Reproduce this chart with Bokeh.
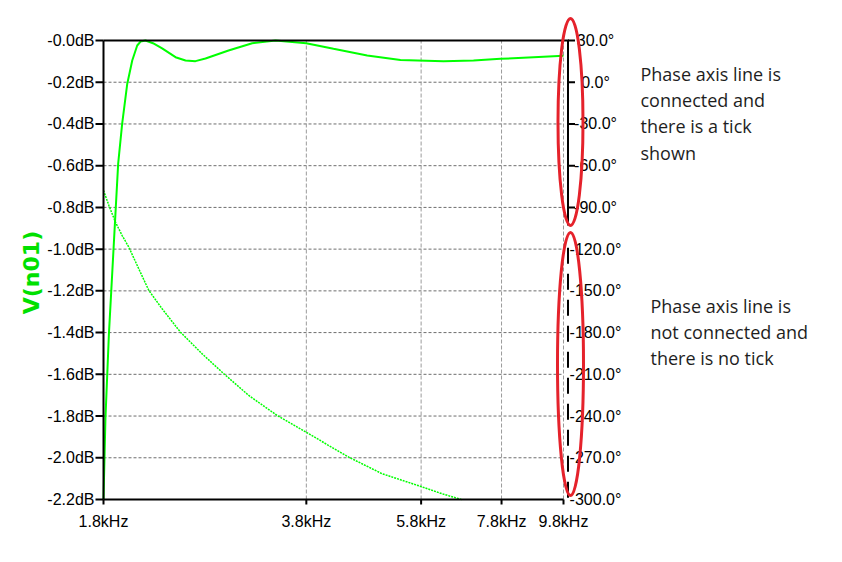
import math
from bokeh.plotting import figure
from bokeh.models import Range1d, LinearScale
from bokeh.core.properties import value
from bokeh.embed import file_html
from bokeh.resources import INLINE

# frequency axis (kHz, log)
freq_ticks = [1.8, 3.8, 5.8, 7.8, 9.8]
freq_labels = ["1.8kHz", "3.8kHz", "5.8kHz", "7.8kHz", "9.8kHz"]

# magnitude axis
db_ticks = [0.0, -0.2, -0.4, -0.6, -0.8, -1.0, -1.2, -1.4, -1.6, -1.8, -2.0, -2.2]
db_labels = ["-0.0dB", "-0.2dB", "-0.4dB", "-0.6dB", "-0.8dB", "-1.0dB",
             "-1.2dB", "-1.4dB", "-1.6dB", "-1.8dB", "-2.0dB", "-2.2dB"]

# phase axis
phase_ticks = [30, 0, -30, -60, -90, -120, -150, -180, -210, -240, -270, -300]
phase_labels = ["30.0°", "0.0°", "-30.0°", "-60.0°", "-90.0°", "-120.0°",
                "-150.0°", "-180.0°", "-210.0°", "-240.0°", "-270.0°", "-300.0°"]
# phase axis line: solid down to solid_end, dashed from dashed_start
solid_end = -103
dashed_start = -119

# V(n01) magnitude
mag_freq = [1.8, 1.813, 1.836, 1.860, 1.881, 1.900, 1.928, 1.964, 2.001, 2.038, 2.063, 2.101,
            2.16, 2.234, 2.347, 2.435, 2.526, 2.621, 2.853, 3.113, 3.392, 3.798, 4.200, 4.755,
            5.376, 6.299, 7.035, 7.771, 8.775, 9.8]
mag_db = [-2.20, -1.81, -1.41, -1.10, -0.83, -0.59, -0.40, -0.21, -0.096, -0.024, -0.005, 0.0,
          -0.013, -0.038, -0.080, -0.096, -0.099, -0.086, -0.048, -0.013, 0.0, -0.013, -0.040,
          -0.072, -0.093, -0.099, -0.096, -0.088, -0.080, -0.073]

# V(n01) phase
ph_freq = [1.8, 1.836, 1.881, 1.928, 1.976, 2.050, 2.127, 2.234, 2.390, 2.589, 2.804,
           3.074, 3.413, 3.798, 4.128, 4.444, 5.025, 5.8, 6.269, 6.748]
ph_deg = [-77.8, -88.6, -100.6, -110.2, -118.6, -134.2, -149.7, -162.9, -179.7, -195.3,
          -209.6, -225.2, -239.6, -251.6, -261.2, -269.6, -281.5, -290.7, -295.9, -300.2]

note_top = ["Phase axis line is", "connected and", "there is a tick", "shown"]
note_bottom = ["Phase axis line is", "not connected and", "there is no tick"]

GREEN = "#00ff00"
RED = "#e5222b"
TICK_FONT = "Liberation Sans"
TICK_SIZE = "16px"

# the frame fills the canvas; the plot itself sits in [X0, X1] x [Y_TOP, Y_BOT] page pixels
W, H = 840, 560
X0, X1, Y_TOP, Y_BOT = 103, 563, 40, 499


def stretched(lo, hi):
    # value range that puts lo at Y_BOT and hi at Y_TOP on a 0..H frame
    k = (hi - lo) / (Y_BOT - Y_TOP)
    return Range1d(lo - k * (H - Y_BOT), hi + k * Y_TOP)


ratio = freq_ticks[-1] / freq_ticks[0]
x_range = Range1d(freq_ticks[0] * ratio ** (-X0 / (X1 - X0)),
                  freq_ticks[0] * ratio ** ((W - X0) / (X1 - X0)))

p = figure(width=W, height=H, x_axis_type="log", x_axis_location=None, y_axis_location=None,
           x_range=x_range, y_range=stretched(db_ticks[-1], db_ticks[0]),
           output_backend="svg", toolbar_location=None,
           min_border_left=0, min_border_top=0, min_border_right=0, min_border_bottom=0)
p.outline_line_color = None
p.grid.visible = False

p.extra_y_ranges = {"phase": stretched(phase_ticks[-1], phase_ticks[0]), "py": Range1d(H, 0)}
p.extra_x_ranges = {"px": Range1d(0, W)}
p.extra_x_scales = {"px": LinearScale()}

# grid, limited to the plot area
p.segment(x0=freq_ticks[0], x1=freq_ticks[-1], y0=db_ticks[1:-1], y1=db_ticks[1:-1],
          line_color="#6e6e6e", line_width=1, line_dash="3 2")
p.segment(x0=freq_ticks[1:], x1=freq_ticks[1:], y0=db_ticks[-1], y1=db_ticks[0],
          line_color="#9a9a9a", line_width=1, line_dash="4 2")

p.line(ph_freq, ph_deg, y_range_name="phase", line_color=GREEN, line_width=1.5, line_dash="2 1")
p.line(mag_freq, mag_db, line_color=GREEN, line_width=2)

text_style = dict(text_font=value(TICK_FONT), text_font_size=value(TICK_SIZE),
                  text_color="black", text_baseline="middle")

# magnitude axis
p.segment(x0=[freq_ticks[0]], x1=[freq_ticks[0]], y0=[db_ticks[-1]], y1=[db_ticks[0]],
          line_color="black", line_width=2)
p.segment(x0=X0 - 8, x1=X0, y0=db_ticks, y1=db_ticks, x_range_name="px",
          line_color="black", line_width=2)
p.text(x=X0 - 9, y=db_ticks, text=db_labels, x_range_name="px", text_align="right",
       **text_style)

# frequency axis
p.segment(x0=[freq_ticks[0]], x1=[freq_ticks[-1]], y0=[db_ticks[-1]], y1=[db_ticks[-1]],
          line_color="black", line_width=2)
p.segment(x0=freq_ticks, x1=freq_ticks, y0=Y_BOT, y1=Y_BOT + 5, y_range_name="py",
          line_color="black", line_width=2)
p.text(x=freq_ticks, y=Y_BOT + 22, text=freq_labels, y_range_name="py", text_align="center",
       **text_style)

# top border and the phase axis
axis_x = 567.5
p.segment(x0=[X0], x1=[axis_x + 1], y0=[db_ticks[0]], y1=[db_ticks[0]], x_range_name="px",
          line_color="black", line_width=2)
p.segment(x0=[axis_x], x1=[axis_x], y0=[phase_ticks[0]], y1=[solid_end],
          x_range_name="px", y_range_name="phase", line_color="black", line_width=2)
p.segment(x0=[axis_x], x1=[axis_x], y0=[dashed_start], y1=[phase_ticks[-1]],
          x_range_name="px", y_range_name="phase", line_color="black", line_width=2,
          line_dash="16 10")
shown = [t for t in phase_ticks if t > solid_end]
p.segment(x0=axis_x, x1=axis_x + 7, y0=shown, y1=shown, x_range_name="px",
          y_range_name="phase", line_color="black", line_width=2)
p.text(x=595, y=phase_ticks, text=phase_labels, x_range_name="px", y_range_name="phase",
       text_align="center", **text_style)

# trace name, written up the left side
p.text(x=[31], y=[272], text=["V(n01)"], angle=math.pi / 2,
       x_range_name="px", y_range_name="py", text_align="center", text_baseline="middle",
       text_font=value("DejaVu Sans"), text_font_style="bold", text_font_size=value("22px"),
       text_color="#00e000")

# red call-out rings
p.ellipse(x=[570, 570], y=[121.5, 363.5], width=[25, 26], height=[207, 263],
          x_range_name="px", y_range_name="py", fill_alpha=0, line_color=RED, line_width=3)

for lines, x0, y0 in [(note_top, 640, 73), (note_bottom, 650, 305)]:
    p.text(x=[x0] * len(lines), y=[y0 + i * 26.4 for i in range(len(lines))], text=lines,
           x_range_name="px", y_range_name="py", text_align="left", text_baseline="alphabetic",
           text_font=value("Open Sans"), text_font_size=value("18px"), text_color="#1e1e1e")

open("out.html", "w").write(file_html(p, INLINE))
